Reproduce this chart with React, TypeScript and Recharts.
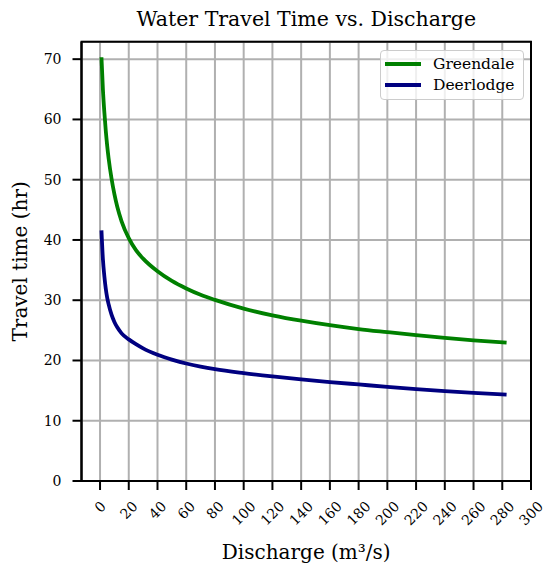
import {
  LineChart,
  Line,
  XAxis,
  YAxis,
  CartesianGrid,
  ReferenceArea,
} from "recharts";

// page has the browser's default 8px margin, drop it so the chart sits at 0,0
document.body.style.margin = "0";

// Discharge (m³/s) sample points
const discharge = [
  1, 2, 3, 4, 5, 6, 8, 10, 12, 15, 20, 25, 30, 40, 50, 60, 70, 80, 100, 120,
  140, 160, 180, 200, 220, 240, 260, 283,
];

// Travel time (hr)
const greendale = [
  70.3, 65.0, 61.2, 58.1, 55.6, 53.5, 50.2, 47.6, 45.5, 43.1, 40.3, 38.3, 36.9,
  34.8, 33.2, 31.95, 30.9, 30.05, 28.6, 27.5, 26.6, 25.85, 25.22, 24.7, 24.2,
  23.75, 23.35, 22.95,
];
const deerlodge = [
  41.6, 36.8, 34.0, 31.9, 30.4, 29.3, 27.6, 26.4, 25.5, 24.5, 23.5, 22.7, 22.0,
  20.95, 20.15, 19.5, 18.98, 18.55, 17.9, 17.35, 16.85, 16.42, 16.02, 15.62,
  15.25, 14.92, 14.62, 14.35,
];

const xTicks = [
  0, 20, 40, 60, 80, 100, 120, 140, 160, 180, 200, 220, 240, 260, 280, 300,
];
const yTicks = [0, 10, 20, 30, 40, 50, 60, 70];

const X_DOMAIN: [number, number] = [-12.9, 300];
const Y_DOMAIN: [number, number] = [0, 72.9];

const FONT = "'DejaVu Serif', serif";
const GRID = "#b0b0b0";

const SERIES = [
  { key: "Greendale", color: "#008000" },
  { key: "Deerlodge", color: "#000080" },
];

const data = discharge.map((q, i) => ({
  q,
  Greendale: greendale[i],
  Deerlodge: deerlodge[i],
}));

// matplotlib-style rotated tick: the rotated box hangs below the tick mark
function XTick({ x, y, payload }: any) {
  const label = String(payload.value);
  const w = label.length * 0.636 * 14;
  const cy = y + 7.5 + (w + 12) * 0.354;
  return (
    <text
      x={x}
      y={cy}
      transform={`rotate(-45 ${x} ${cy})`}
      textAnchor="middle"
      dominantBaseline="central"
      fontSize={14}
      fontFamily={FONT}
      fill="#000"
    >
      {label}
    </text>
  );
}

function LegendBox() {
  return (
    <div
      style={{
        position: "absolute",
        left: 380,
        top: 50,
        width: 144,
        height: 50,
        boxSizing: "border-box",
        border: "1px solid #cccccc",
        borderRadius: 4,
        background: "rgba(255,255,255,0.8)",
        fontFamily: FONT,
        fontSize: 15.5,
      }}
    >
      {SERIES.map((s, i) => (
        <div
          key={s.key}
          style={{ position: "absolute", left: 0, top: 2.7 + i * 21.6, height: 20 }}
        >
          <div
            style={{
              position: "absolute",
              left: 4,
              top: 8.1,
              width: 36,
              height: 3.8,
              background: s.color,
            }}
          />
          <div
            style={{
              position: "absolute",
              left: 52,
              top: 0,
              lineHeight: "20px",
              whiteSpace: "nowrap",
              color: "#000",
            }}
          >
            {s.key}
          </div>
        </div>
      ))}
    </div>
  );
}

export default function App() {
  return (
    <div style={{ position: "relative", width: 550, height: 571, background: "#fff" }}>
      <LineChart
        width={550}
        height={571}
        data={data}
        margin={{ top: 41.7, right: 19, bottom: 0, left: 0 }}
      >
        <CartesianGrid stroke={GRID} strokeWidth={2} />
        <XAxis
          dataKey="q"
          type="number"
          domain={X_DOMAIN}
          ticks={xTicks}
          interval={0}
          height={90}
          allowDataOverflow
          tickSize={9}
          tickLine={{ stroke: "#000", strokeWidth: 2 }}
          axisLine={{ stroke: "#000", strokeWidth: 2 }}
          tick={<XTick />}
          label={{
            value: "Discharge (m³/s)",
            position: "insideBottom",
            offset: 12,
            style: { fontFamily: FONT, fontSize: 20, fill: "#000" },
          }}
        />
        <YAxis
          type="number"
          domain={Y_DOMAIN}
          ticks={yTicks}
          interval={0}
          width={81.5}
          allowDataOverflow
          tickSize={9}
          tickMargin={11}
          tickLine={{ stroke: "#000", strokeWidth: 2 }}
          axisLine={{ stroke: "#000", strokeWidth: 2 }}
          tick={{ fontFamily: FONT, fontSize: 14, fill: "#000" }}
          label={{
            value: "Travel time (hr)",
            angle: -90,
            position: "insideLeft",
            offset: 19.5,
            style: { fontFamily: FONT, fontSize: 20, fill: "#000", textAnchor: "middle" },
          }}
        />
        <ReferenceArea
          x1={X_DOMAIN[0]}
          x2={X_DOMAIN[1]}
          y1={Y_DOMAIN[0]}
          y2={Y_DOMAIN[1]}
          fill="none"
          stroke="#000"
          strokeWidth={2}
          ifOverflow="visible"
        />
        {SERIES.map((s) => (
          <Line
            key={s.key}
            type="monotone"
            dataKey={s.key}
            stroke={s.color}
            strokeWidth={3.8}
            dot={false}
            isAnimationActive={false}
          />
        ))}
      </LineChart>
      <div
        style={{
          position: "absolute",
          left: 81.5,
          width: 449.5,
          top: 8.7,
          textAlign: "center",
          fontFamily: FONT,
          fontSize: 20.5,
          lineHeight: 1,
          whiteSpace: "nowrap",
          color: "#000",
        }}
      >
        Water Travel Time vs. Discharge
      </div>
      <LegendBox />
    </div>
  );
}
